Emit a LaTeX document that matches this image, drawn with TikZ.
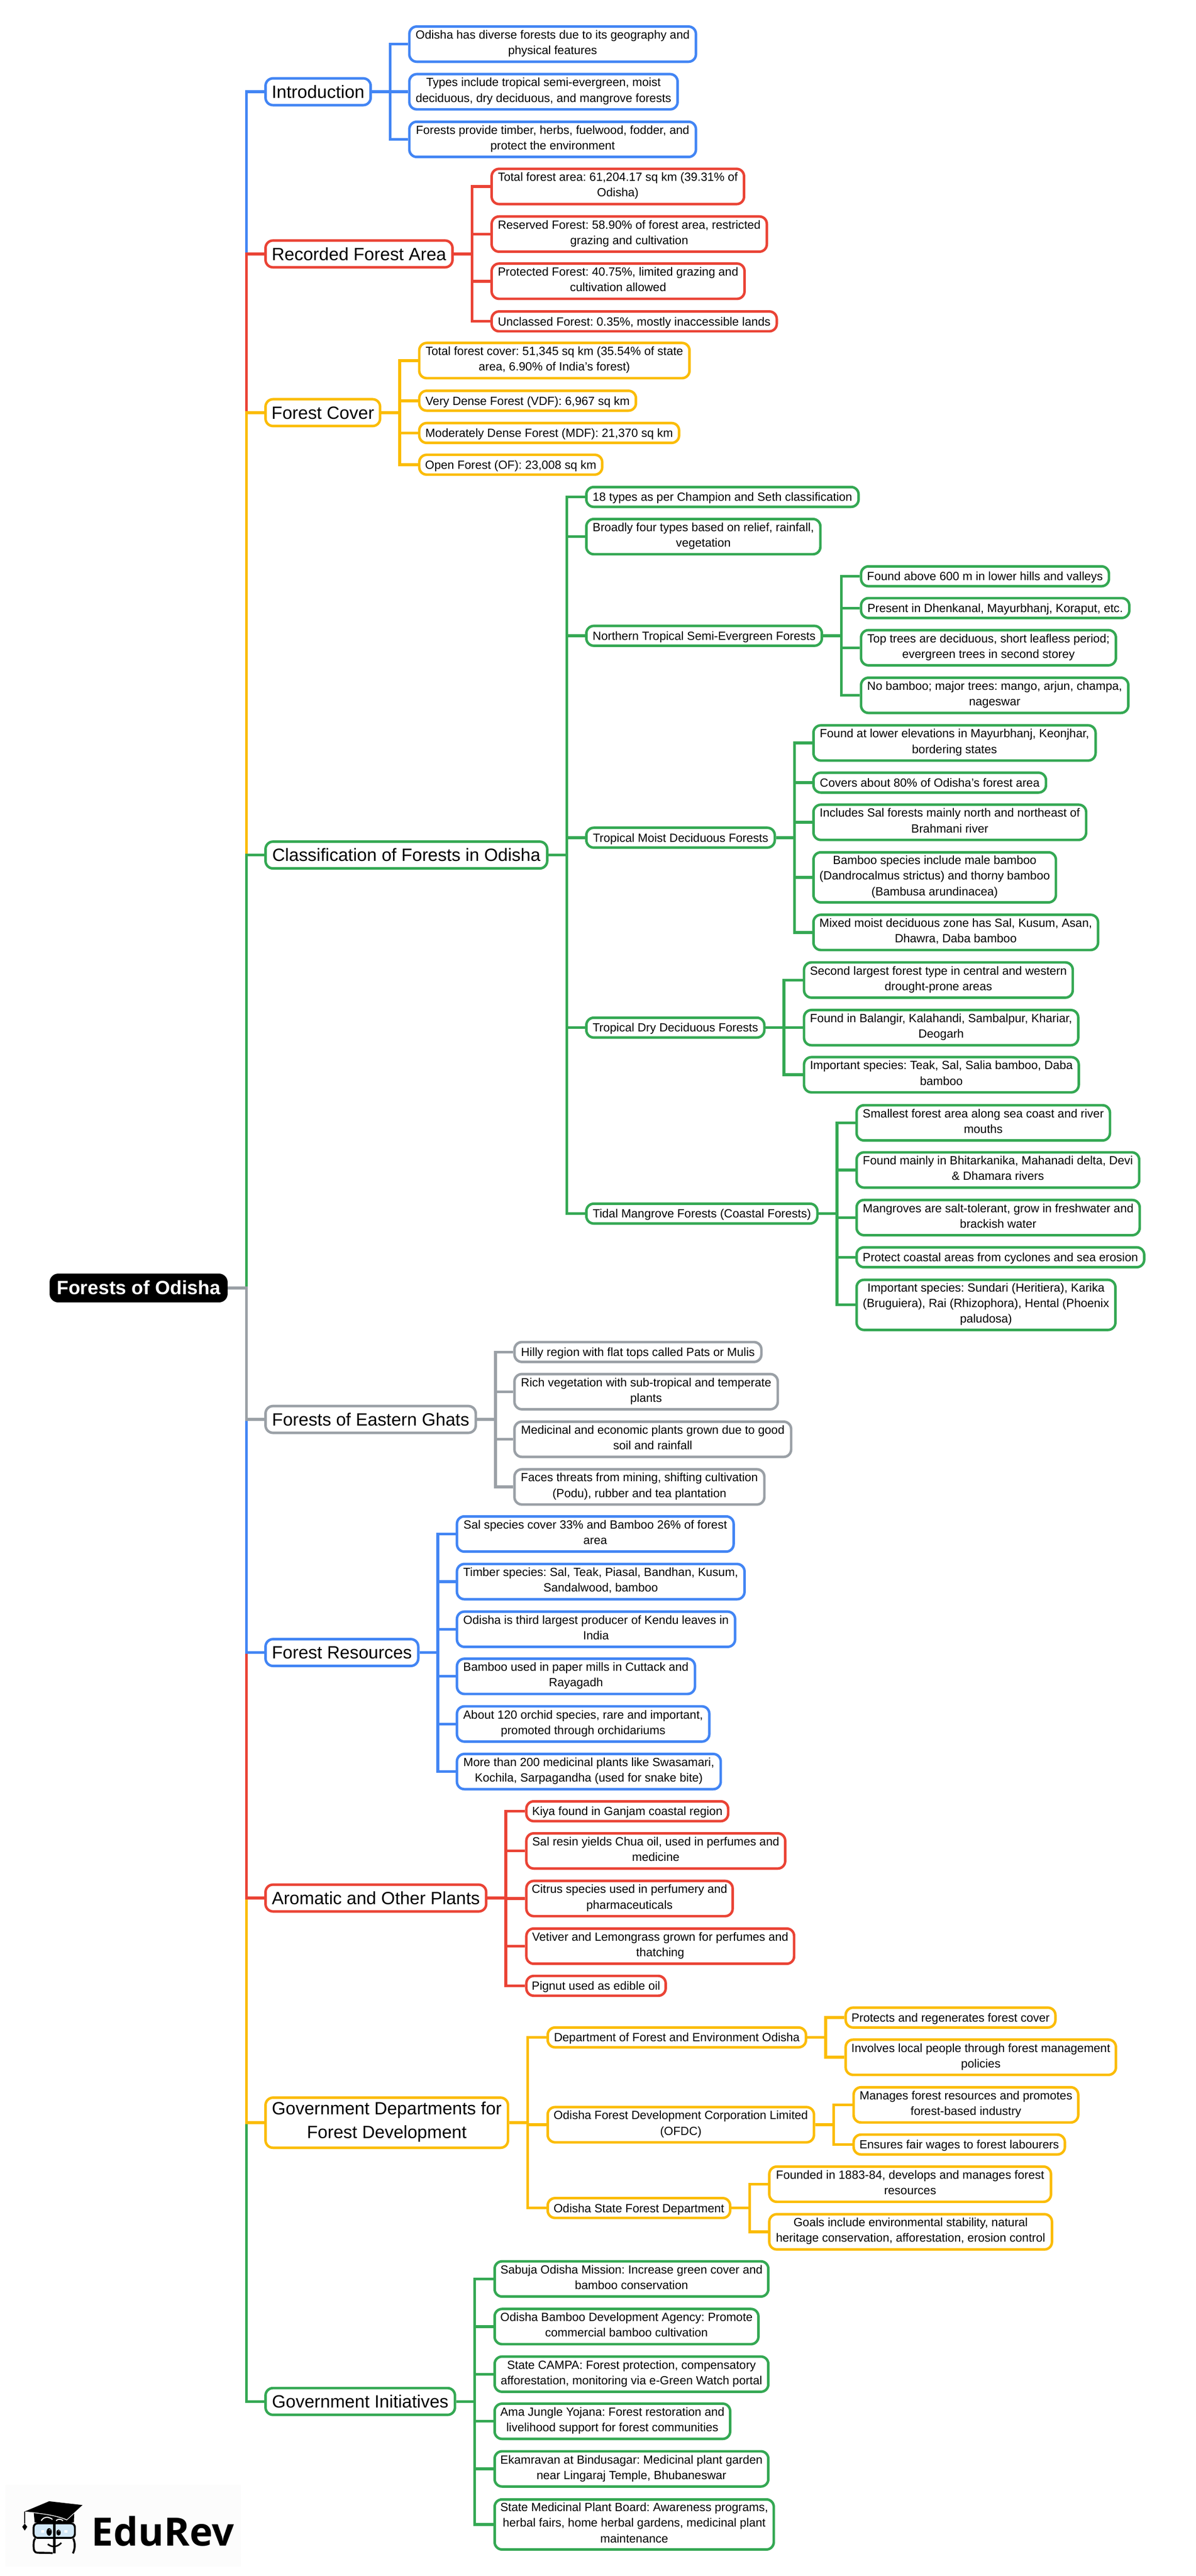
\documentclass[tikz,border=0pt]{standalone}
\usepackage{fontspec}
\setmainfont{Liberation Sans}
\newfontfamily\logofont{Open Sans}
\frenchspacing
\definecolor{cblue}{HTML}{4285F4}
\definecolor{cred}{HTML}{EA4335}
\definecolor{cyellow}{HTML}{FBBC04}
\definecolor{cgreen}{HTML}{34A853}
\definecolor{cgray}{HTML}{9AA0A6}
\definecolor{cglass}{HTML}{D2E8F7}
\tikzset{
  box/.style={draw=#1,fill=white,line width=1.45pt,rounded corners=.15cm,anchor=west,
    align=center,inner sep=0pt},
  leaf/.style={box=#1,font=\fontsize{6.8}{8.9}\selectfont,
    execute at begin node=\rule{0pt}{6.9pt},execute at end node=\rule[-2pt]{0pt}{2pt}},
  topic/.style={box=#1,font=\fontsize{10.18}{13.4}\selectfont,minimum height=.54cm,
    execute at begin node=\rule{0pt}{10.3pt},execute at end node=\rule[-3pt]{0pt}{3pt}},
  lineone/.style={minimum height=.40cm},
  linetwo/.style={minimum height=.71cm},
  linethree/.style={minimum height=1.01cm},
  link/.style={line width=1.6pt,line join=miter},
}
\begin{document}
\begin{tikzpicture}
  \useasboundingbox (0,0) rectangle (24.12,-51.94);

  % Root of the map
  \node[topic=black,fill=black,text=white,font=\fontsize{11.04}{13.4}\selectfont\bfseries,
    minimum width=3.54cm,minimum height=.53cm] (root) at (1.00,-25.97) {Forests of Odisha};

  % Topics on the trunk
  \node[topic=cblue,minimum width=2.12cm] (intro) at (5.33,-1.85) {Introduction};
  \node[topic=cred,minimum width=3.77cm] (recorded) at (5.33,-5.12) {Recorded Forest Area};
  \node[topic=cyellow,minimum width=2.31cm] (cover) at (5.33,-8.32) {Forest Cover};
  \node[topic=cgreen,minimum width=5.68cm] (classes) at (5.33,-17.24) {Classification of Forests in Odisha};
  \node[topic=cgray,minimum width=4.24cm] (ghats) at (5.33,-28.62) {Forests of Eastern Ghats};
  \node[topic=cblue,minimum width=3.08cm] (resources) at (5.33,-33.32) {Forest Resources};
  \node[topic=cred,minimum width=4.45cm] (aromatic) at (5.33,-38.27) {Aromatic and Other Plants};
  \node[topic=cyellow,minimum width=4.89cm,minimum height=1.01cm] (depts) at (5.33,-42.80) {Government Departments for\\Forest Development};
  \node[topic=cgreen,minimum width=3.82cm] (initiatives) at (5.33,-48.42) {Government Initiatives};

  % Introduction
  \node[leaf=cblue,linetwo,minimum width=5.78cm] (introa) at (8.23,-.89) {Odisha has diverse forests due to its geography and\\physical features};
  \node[leaf=cblue,linetwo,minimum width=5.41cm] (introb) at (8.23,-1.85) {Types include tropical semi-evergreen, moist\\deciduous, dry deciduous, and mangrove forests};
  \node[leaf=cblue,linetwo,minimum width=5.78cm] (introc) at (8.23,-2.81) {Forests provide timber, herbs, fuelwood, fodder, and\\protect the environment};

  % Recorded Forest Area
  \node[leaf=cred,linetwo,minimum width=5.09cm] (recorda) at (9.89,-3.76) {Total forest area: 61,204.17 sq km (39.31\% of\\Odisha)};
  \node[leaf=cred,linetwo,minimum width=5.55cm] (recordb) at (9.89,-4.72) {Reserved Forest: 58.90\% of forest area, restricted\\grazing and cultivation};
  \node[leaf=cred,linetwo,minimum width=5.10cm] (recordc) at (9.89,-5.67) {Protected Forest: 40.75\%, limited grazing and\\cultivation allowed};
  \node[leaf=cred,lineone,minimum width=5.75cm] (recordd) at (9.89,-6.48) {Unclassed Forest: 0.35\%, mostly inaccessible lands};

  % Forest Cover
  \node[leaf=cyellow,linetwo,minimum width=5.45cm] (covera) at (8.43,-7.27) {Total forest cover: 51,345 sq km (35.54\% of state\\area, 6.90\% of India’s forest)};
  \node[leaf=cyellow,lineone,minimum width=4.37cm] (coverb) at (8.43,-8.08) {Very Dense Forest (VDF): 6,967 sq km};
  \node[leaf=cyellow,lineone,minimum width=5.24cm] (coverc) at (8.43,-8.73) {Moderately Dense Forest (MDF): 21,370 sq km};
  \node[leaf=cyellow,lineone,minimum width=3.69cm] (coverd) at (8.43,-9.37) {Open Forest (OF): 23,008 sq km};

  % Classification of Forests
  \node[leaf=cgreen,lineone,minimum width=5.49cm] (types) at (11.80,-10.02) {18 types as per Champion and Seth classification};
  \node[leaf=cgreen,linetwo,minimum width=4.72cm] (broad) at (11.80,-10.82) {Broadly four types based on relief, rainfall,\\vegetation};
  \node[leaf=cgreen,lineone,minimum width=4.75cm] (north) at (11.80,-12.82) {Northern Tropical Semi-Evergreen Forests};
  \node[leaf=cgreen,lineone,minimum width=3.80cm] (moist) at (11.80,-16.89) {Tropical Moist Deciduous Forests};
  \node[leaf=cgreen,lineone,minimum width=3.59cm] (dry) at (11.80,-20.72) {Tropical Dry Deciduous Forests};
  \node[leaf=cgreen,lineone,minimum width=4.66cm] (tidal) at (11.80,-24.47) {Tidal Mangrove Forests (Coastal Forests)};

  % Northern Tropical Semi-Evergreen
  \node[leaf=cgreen,lineone,minimum width=5.00cm] (northa) at (17.34,-11.62) {Found above 600 m in lower hills and valleys};
  \node[leaf=cgreen,lineone,minimum width=5.41cm] (northb) at (17.34,-12.26) {Present in Dhenkanal, Mayurbhanj, Koraput, etc.};
  \node[leaf=cgreen,linetwo,minimum width=5.14cm] (northc) at (17.34,-13.06) {Top trees are deciduous, short leafless period;\\evergreen trees in second storey};
  \node[leaf=cgreen,linetwo,minimum width=5.39cm] (northd) at (17.34,-14.02) {No bamboo; major trees: mango, arjun, champa,\\nageswar};

  % Tropical Moist Deciduous
  \node[leaf=cgreen,linetwo,minimum width=5.69cm] (moista) at (16.38,-14.98) {Found at lower elevations in Mayurbhanj, Keonjhar,\\bordering states};
  \node[leaf=cgreen,lineone,minimum width=4.69cm] (moistb) at (16.38,-15.78) {Covers about 80\% of Odisha’s forest area};
  \node[leaf=cgreen,linetwo,minimum width=5.50cm] (moistc) at (16.38,-16.58) {Includes Sal forests mainly north and northeast of\\Brahmani river};
  \node[leaf=cgreen,linethree,minimum width=4.89cm] (moistd) at (16.38,-17.69) {Bamboo species include male bamboo\\(Dandrocalmus strictus) and thorny bamboo\\(Bambusa arundinacea)};
  \node[leaf=cgreen,linetwo,minimum width=5.74cm] (moiste) at (16.38,-18.80) {Mixed moist deciduous zone has Sal, Kusum, Asan,\\Dhawra, Daba bamboo};

  % Tropical Dry Deciduous
  \node[leaf=cgreen,linetwo,minimum width=5.42cm] (drya) at (16.19,-19.76) {Second largest forest type in central and western\\drought-prone areas};
  \node[leaf=cgreen,linetwo,minimum width=5.53cm] (dryb) at (16.19,-20.72) {Found in Balangir, Kalahandi, Sambalpur, Khariar,\\Deogarh};
  \node[leaf=cgreen,linetwo,minimum width=5.54cm] (dryc) at (16.19,-21.67) {Important species: Teak, Sal, Salia bamboo, Daba\\bamboo};

  % Tidal Mangrove
  \node[leaf=cgreen,linetwo,minimum width=5.11cm] (tidala) at (17.25,-22.64) {Smallest forest area along sea coast and river\\mouths};
  \node[leaf=cgreen,linetwo,minimum width=5.70cm] (tidalb) at (17.25,-23.59) {Found mainly in Bhitarkanika, Mahanadi delta, Devi\\\& Dhamara rivers};
  \node[leaf=cgreen,linetwo,minimum width=5.71cm] (tidalc) at (17.25,-24.55) {Mangroves are salt-tolerant, grow in freshwater and\\brackish water};
  \node[leaf=cgreen,lineone,minimum width=5.80cm] (tidald) at (17.25,-25.35) {Protect coastal areas from cyclones and sea erosion};
  \node[leaf=cgreen,linethree,minimum width=5.22cm] (tidale) at (17.25,-26.31) {Important species: Sundari (Heritiera), Karika\\(Bruguiera), Rai (Rhizophora), Hental (Phoenix\\paludosa)};

  % Forests of Eastern Ghats
  \node[leaf=cgray,lineone,minimum width=4.98cm] (ghatsa) at (10.35,-27.26) {Hilly region with flat tops called Pats or Mulis};
  \node[leaf=cgray,linetwo,minimum width=5.31cm] (ghatsb) at (10.35,-28.06) {Rich vegetation with sub-tropical and temperate\\plants};
  \node[leaf=cgray,linetwo,minimum width=5.58cm] (ghatsc) at (10.35,-29.02) {Medicinal and economic plants grown due to good\\soil and rainfall};
  \node[leaf=cgray,linetwo,minimum width=5.04cm] (ghatsd) at (10.35,-29.98) {Faces threats from mining, shifting cultivation\\(Podu), rubber and tea plantation};

  % Forest Resources
  \node[leaf=cblue,linetwo,minimum width=5.58cm] (resa) at (9.19,-30.93) {Sal species cover 33\% and Bamboo 26\% of forest\\area};
  \node[leaf=cblue,linetwo,minimum width=5.80cm] (resb) at (9.19,-31.89) {Timber species: Sal, Teak, Piasal, Bandhan, Kusum,\\Sandalwood, bamboo};
  \node[leaf=cblue,linetwo,minimum width=5.61cm] (resc) at (9.19,-32.85) {Odisha is third largest producer of Kendu leaves in\\India};
  \node[leaf=cblue,linetwo,minimum width=4.80cm] (resd) at (9.19,-33.80) {Bamboo used in paper mills in Cuttack and\\Rayagadh};
  \node[leaf=cblue,linetwo,minimum width=5.09cm] (rese) at (9.19,-34.76) {About 120 orchid species, rare and important,\\promoted through orchidariums};
  \node[leaf=cblue,linetwo,minimum width=5.32cm] (resf) at (9.19,-35.72) {More than 200 medicinal plants like Swasamari,\\Kochila, Sarpagandha (used for snake bite)};

  % Aromatic and Other Plants
  \node[leaf=cred,lineone,minimum width=4.07cm] (aroma) at (10.59,-36.52) {Kiya found in Ganjam coastal region};
  \node[leaf=cred,linetwo,minimum width=5.22cm] (aromb) at (10.59,-37.32) {Sal resin yields Chua oil, used in perfumes and\\medicine};
  \node[leaf=cred,linetwo,minimum width=4.16cm] (aromc) at (10.59,-38.28) {Citrus species used in perfumery and\\pharmaceuticals};
  \node[leaf=cred,linetwo,minimum width=5.40cm] (aromd) at (10.59,-39.24) {Vetiver and Lemongrass grown for perfumes and\\thatching};
  \node[leaf=cred,lineone,minimum width=2.81cm] (arome) at (10.59,-40.04) {Pignut used as edible oil};

  % Government Departments
  \node[leaf=cyellow,lineone,minimum width=5.21cm] (dept) at (11.02,-41.08) {Department of Forest and Environment Odisha};
  \node[leaf=cyellow,linetwo,minimum width=5.37cm] (ofdc) at (11.02,-42.84) {Odisha Forest Development Corporation Limited\\(OFDC)};
  \node[leaf=cyellow,lineone,minimum width=3.68cm] (state) at (11.02,-44.52) {Odisha State Forest Department};
  \node[leaf=cyellow,lineone,minimum width=4.23cm] (depta) at (17.03,-40.68) {Protects and regenerates forest cover};
  \node[leaf=cyellow,linetwo,minimum width=5.45cm] (deptb) at (17.03,-41.48) {Involves local people through forest management\\policies};
  \node[leaf=cyellow,linetwo,minimum width=4.53cm] (ofdca) at (17.19,-42.44) {Manages forest resources and promotes\\forest-based industry};
  \node[leaf=cyellow,lineone,minimum width=4.26cm] (ofdcb) at (17.19,-43.24) {Ensures fair wages to forest labourers};
  \node[leaf=cyellow,linetwo,minimum width=5.68cm] (statea) at (15.49,-44.04) {Founded in 1883-84, develops and manages forest\\resources};
  \node[leaf=cyellow,linetwo,minimum width=5.70cm] (stateb) at (15.49,-45.00) {Goals include environmental stability, natural\\heritage conservation, afforestation, erosion control};

  % Government Initiatives
  \node[leaf=cgreen,linetwo,minimum width=5.52cm] (inita) at (9.95,-45.95) {Sabuja Odisha Mission: Increase green cover and\\bamboo conservation};
  \node[leaf=cgreen,linetwo,minimum width=5.32cm] (initb) at (9.95,-46.91) {Odisha Bamboo Development Agency: Promote\\commercial bamboo cultivation};
  \node[leaf=cgreen,linetwo,minimum width=5.52cm] (initc) at (9.95,-47.87) {State CAMPA: Forest protection, compensatory\\afforestation, monitoring via e-Green Watch portal};
  \node[leaf=cgreen,linetwo,minimum width=4.75cm] (initd) at (9.95,-48.82) {Ama Jungle Yojana: Forest restoration and\\livelihood support for forest communities};
  \node[leaf=cgreen,linetwo,minimum width=5.52cm] (inite) at (9.95,-49.78) {Ekamravan at Bindusagar: Medicinal plant garden\\near Lingaraj Temple, Bhubaneswar};
  \node[leaf=cgreen,linethree,minimum width=5.63cm] (initf) at (9.95,-50.90) {State Medicinal Plant Board: Awareness programs,\\herbal fairs, home herbal gardens, medicinal plant\\maintenance};

  % Draw the connectors, the trunk from the far ends in so that nearer colours lie on top
  \foreach \kid/\col in {intro/cblue,recorded/cred,cover/cyellow,classes/cgreen,
      initiatives/cgreen,depts/cyellow,aromatic/cred,resources/cblue,ghats/cgray}
    \draw[link,\col] (root.east) -- ++(.38,0) |- (\kid.west);

  \foreach \parent/\col/\kids in {
      intro/cblue/{introa,introb,introc},
      recorded/cred/{recorda,recordb,recordc,recordd},
      cover/cyellow/{covera,coverb,coverc,coverd},
      classes/cgreen/{types,broad,north,moist,dry,tidal},
      north/cgreen/{northa,northb,northc,northd},
      moist/cgreen/{moista,moistb,moistc,moistd,moiste},
      dry/cgreen/{drya,dryb,dryc},
      tidal/cgreen/{tidala,tidalb,tidalc,tidald,tidale},
      ghats/cgray/{ghatsa,ghatsb,ghatsc,ghatsd},
      resources/cblue/{resa,resb,resc,resd,rese,resf},
      aromatic/cred/{aroma,aromb,aromc,aromd,arome},
      depts/cyellow/{dept,ofdc,state},
      dept/cyellow/{depta,deptb},
      ofdc/cyellow/{ofdca,ofdcb},
      state/cyellow/{statea,stateb},
      initiatives/cgreen/{inita,initb,initc,initd,inite,initf}}
    \foreach \kid in \kids
      \draw[link,\col] (\parent.east) -- ++(.37,0) |- (\kid.west);

  % Logo in the lower left corner
  \fill[black!1] (.10,-50.10) rectangle (4.86,-51.75);
  \node[anchor=base west,inner sep=0pt,font=\logofont\fontsize{22.4}{24}\selectfont\bfseries] (logo) at (1.84,-51.33) {EduRev};
  \begin{scope}[shift={(0,-50)},x=.003333cm,y=-.003333cm]
    % cap
    \fill (150,192) -- (298,130) -- (500,153) -- (405,240) .. controls (340,212) and (240,200) .. cycle;
    \fill (205,202) .. controls (280,210) and (350,222) .. (405,246) -- (450,205) -- (448,258) -- (210,258) -- cycle;
    \draw[white,line width=.6pt] (250,248) .. controls (265,222) and (295,222) .. (318,240);
    \draw[white,line width=.6pt] (340,248) .. controls (350,236) and (370,236) .. (382,248);
    \draw[line width=.8pt] (150,192) -- (150,265);
    \fill (150,265) -- (165,285) -- (150,308) -- (135,285) -- cycle;
    % glasses
    \draw[fill=cglass,line width=1.1pt,rounded corners=.08cm] (204,264) rectangle (454,352);
    \draw[line width=1.3pt] (330,262) -- (330,447);
    \fill (298,316) ellipse [x radius=16,y radius=23];
    \fill (355,320) ellipse [x radius=13,y radius=18];
    \fill[white] (303,303) circle (3);
    \fill[white] (358,310) circle (3);
    \fill[white] (250,304) rectangle (270,320);
    \fill[white] (390,304) rectangle (410,320);
    % face
    \draw[line width=1.1pt] (320,444) -- (228,442) .. controls (205,440) and (204,425) .. (204,395) .. controls (204,375) and (205,365) .. (214,356);
    \draw[line width=1.1pt] (442,446) .. controls (455,420) and (458,385) .. (444,356);
    \draw[line width=.9pt] (290,390) .. controls (310,408) and (345,412) .. (372,382);
  \end{scope}
\end{tikzpicture}
\end{document}
